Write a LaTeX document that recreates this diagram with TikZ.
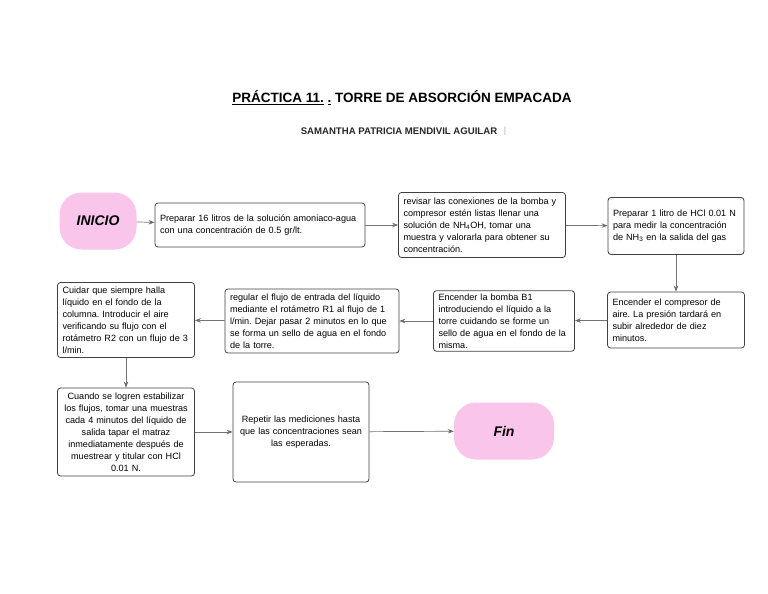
\documentclass[tikz,border=0pt]{standalone}
\usepackage{fontspec}
\setmainfont{Liberation Sans}
\usetikzlibrary{arrows.meta}
\definecolor{rosa}{HTML}{F9C5EA}
\frenchspacing
\begin{document}
\begin{tikzpicture}[x=1pt, y=-1pt,
  paso/.style={draw=black!75, thick, rounded corners=3pt, fill=white, inner xsep=5pt, inner ysep=3pt, align=left, font=\fontsize{9.1}{12}\selectfont},
  extremo/.style={fill=rosa, rounded corners=22pt, minimum width=77pt, font=\fontsize{14}{16}\selectfont\bfseries\itshape},
  flecha/.style={draw=black!55, line width=0.7pt, double=white, double distance=1.1pt, -{Stealth[length=6pt,width=4.5pt]}}]
\useasboundingbox (0,0) rectangle (768,594);
\node[font=\fontsize{13.5}{15}\selectfont\bfseries] (titulo) at (402,98) {\underline{PRÁCTICA 11.} \underline{.} TORRE DE ABSORCIÓN EMPACADA};
\node[font=\fontsize{9.6}{11}\selectfont\bfseries, text=black!85] (autor) at (399,131) {SAMANTHA PATRICIA MENDIVIL AGUILAR};
\node[font=\fontsize{9}{10}\selectfont, text=black!30] (cursor) at (505,131) {|};
\node[extremo, minimum height=57pt] (inicio) at (98,221) {INICIO};
\node[paso, text width=200pt, minimum height=44pt] (b1) at (260,225) {Preparar 16 litros de la solución amoniaco-agua\\con una concentración de 0.5 gr/lt.};
\node[paso, text width=157pt, minimum height=65pt] (b2) at (482,225) {revisar las conexiones de la bomba y\\compresor estén listas llenar una\\solución de NH\textsubscript{4}OH, tomar una\\muestra y valorarla para obtener su\\concentración.};
\node[paso, text width=126pt, minimum height=57pt] (b3) at (676,226) {Preparar 1 litro de HCl 0.01 N\\para medir la concentración\\de NH\textsubscript{3} en la salida del gas};
\node[paso, text width=127pt, minimum height=56pt] (b4) at (676,320) {Encender el compresor de\\aire. La presión tardará en\\subir alrededor de diez\\minutos.};
\node[paso, text width=131pt, minimum height=59pt] (b5) at (504,321) {Encender la bomba B1\\introduciendo el líquido a la\\torre cuidando se forme un\\sello de agua en el fondo de la\\misma.};
\node[paso, text width=164pt, minimum height=64pt] (b6) at (312,321) {regular el flujo de entrada del líquido\\mediante el rotámetro R1 al flujo de 1\\l/min. Dejar pasar 2 minutos en lo que\\se forma un sello de agua en el fondo\\de la torre.};
\node[paso, text width=127pt, minimum height=75pt] (b7) at (126,320) {Cuidar que siempre halla\\líquido en el fondo de la\\columna. Introducir el aire\\verificando su flujo con el\\rotámetro R2 con un flujo de 3\\l/min.};
\node[paso, align=center, text width=127pt, minimum height=88pt] (b8) at (126,432) {Cuando se logren estabilizar\\los flujos, tomar una muestras\\cada 4 minutos del líquido de\\salida tapar el matraz\\inmediatamente después de\\muestrear y titular con HCl\\0.01 N.};
\node[paso, align=center, text width=126pt, minimum height=100pt] (b9) at (301,432) {Repetir las mediciones hasta\\que las concentraciones sean\\las esperadas.};
\node[extremo, minimum width=100pt, minimum height=57pt] (fin) at (504,431) {Fin};
\path [flecha] (inicio) edge (b1);
\path [flecha] (b1) edge (b2);
\path [flecha] (b2) edge (b3);
\path [flecha] (b3) edge (b4);
\path [flecha] (b4) edge (b5);
\path [flecha] (b5) edge (b6);
\path [flecha] (b6) edge (b7);
\path [flecha] (b7) edge (b8);
\path [flecha] (b8) edge (b9);
\path [flecha] (b9) edge (fin);
\end{tikzpicture}
\end{document}
